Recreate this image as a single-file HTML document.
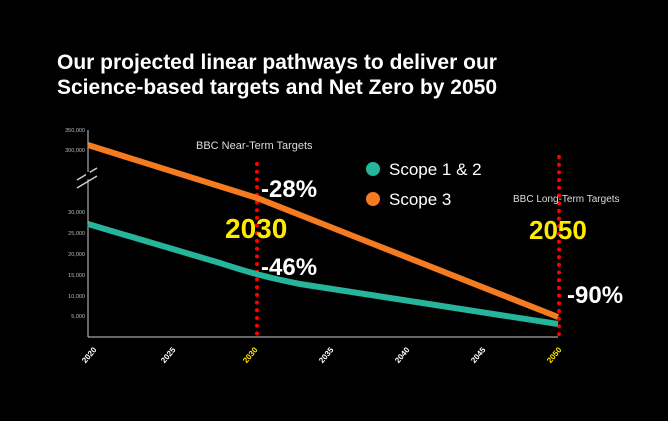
<!DOCTYPE html>
<html><head><style>
body{margin:0;background:#000;width:668px;height:421px;overflow:hidden}
svg{display:block;font-family:"Liberation Sans",sans-serif}
</style></head><body>
<svg width="668" height="421" viewBox="0 0 668 421">
<rect width="668" height="421" fill="#000"/>
<text x="57" y="69" fill="#fff" font-size="21" font-weight="bold">Our projected linear pathways to deliver our</text>
<text x="57" y="94" fill="#fff" font-size="21" font-weight="bold">Science-based targets and Net Zero by 2050</text>
<g stroke="#ccc" stroke-width="1">
<line x1="88" y1="130" x2="88" y2="337"/>
<line x1="88" y1="337" x2="558" y2="337"/>
<line x1="77" y1="180" x2="97" y2="168" stroke-width="1.5"/>
<line x1="77" y1="188" x2="97" y2="176" stroke-width="1.5"/>
</g>
<rect x="86" y="172" width="4" height="7" fill="#000"/>
<g fill="#bbb" font-size="5.5" text-anchor="end">
<text x="85" y="132">350,000</text><text x="85" y="152">300,000</text>
<text x="85" y="214">30,000</text><text x="85" y="235">25,000</text>
<text x="85" y="256">20,000</text><text x="85" y="277">15,000</text>
<text x="85" y="298">10,000</text><text x="85" y="318">5,000</text>
</g>
<g font-size="8" font-weight="bold" fill="#fff">
<text transform="translate(97,350) rotate(-50)" text-anchor="end">2020</text>
<text transform="translate(176,350) rotate(-50)" text-anchor="end">2025</text>
<text transform="translate(258,350) rotate(-50)" text-anchor="end" fill="#ffeb00">2030</text>
<text transform="translate(334,350) rotate(-50)" text-anchor="end">2035</text>
<text transform="translate(410,350) rotate(-50)" text-anchor="end">2040</text>
<text transform="translate(486,350) rotate(-50)" text-anchor="end">2045</text>
<text transform="translate(562,350) rotate(-50)" text-anchor="end" fill="#ffeb00">2050</text>
</g>
<line x1="257" y1="164" x2="257" y2="338" stroke="#f00" stroke-width="4" stroke-linecap="round" stroke-dasharray="0 7.7"/>
<line x1="559" y1="157" x2="559" y2="338" stroke="#f00" stroke-width="4" stroke-linecap="round" stroke-dasharray="0 7.7"/>
<polyline points="88,145 257,198 558,317" fill="none" stroke="#f47b20" stroke-width="6"/>
<path d="M88,224 L220,263 C245,271 260,276 300,284 L558,324" fill="none" stroke="#26b59a" stroke-width="6"/>
<text x="196" y="149" fill="#ddd" font-size="11">BBC Near-Term Targets</text>
<text x="513" y="202" fill="#ddd" font-size="10">BBC Long-Term Targets</text>
<circle cx="373" cy="169" r="7" fill="#26b59a"/>
<circle cx="373" cy="199" r="7" fill="#f47b20"/>
<text x="389" y="175" fill="#fff" font-size="17">Scope 1 &amp; 2</text>
<text x="389" y="205" fill="#fff" font-size="17">Scope 3</text>
<text x="261" y="197" fill="#fff" font-size="24" font-weight="bold">-28%</text>
<text x="261" y="275" fill="#fff" font-size="24" font-weight="bold">-46%</text>
<text x="567" y="303" fill="#fff" font-size="24" font-weight="bold">-90%</text>
<text x="225" y="238" fill="#ffeb00" font-size="28" font-weight="bold">2030</text>
<text x="529" y="239" fill="#ffeb00" font-size="26" font-weight="bold">2050</text>
</svg>
</body></html>
